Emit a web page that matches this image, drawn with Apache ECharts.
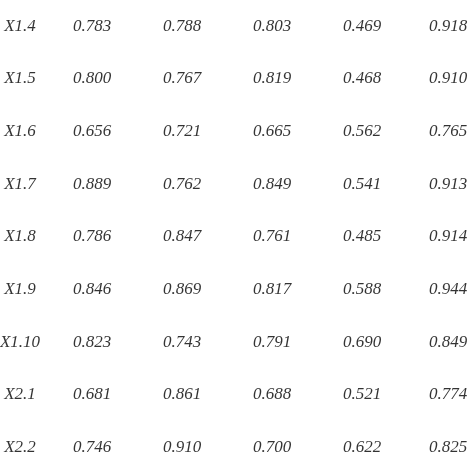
<!DOCTYPE html>
<html>
<head>
<meta charset="utf-8">
<script src="https://cdn.jsdelivr.net/npm/echarts@6/dist/echarts.min.js"></script>
<style>html,body{margin:0;padding:0;background:#fff}#table_chart{width:474px;height:474px}</style>
</head>
<body>
<div id="table_chart"></div>
<script>
const row_names = ["X1.4", "X1.5", "X1.6", "X1.7", "X1.8", "X1.9", "X1.10", "X2.1", "X2.2"]
const col_a = ["0.783", "0.800", "0.656", "0.889", "0.786", "0.846", "0.823", "0.681", "0.746"]
const col_b = ["0.788", "0.767", "0.721", "0.762", "0.847", "0.869", "0.743", "0.861", "0.910"]
const col_c = ["0.803", "0.819", "0.665", "0.849", "0.761", "0.817", "0.791", "0.688", "0.700"]
const col_d = ["0.469", "0.468", "0.562", "0.541", "0.485", "0.588", "0.690", "0.521", "0.622"]
const col_e = ["0.918", "0.910", "0.765", "0.913", "0.914", "0.944", "0.849", "0.774", "0.825"]

// column centres in pixels (layout, not data)
const col_x = [20, 92, 182, 272, 362, 448]
const columns = [row_names, col_a, col_b, col_c, col_d, col_e]

let table_chart = echarts.init(document.getElementById("table_chart"))

let cells = []
columns.forEach((col, c) => {
    col.forEach((txt, r) => {
        cells.push([col_x[c], r, txt])
    })
})

table_chart.setOption({
    animation: false,
    grid: {left: 0, right: 0, top: 0, bottom: 0},
    xAxis: {type: 'value', min: 0, max: 474, show: false},
    yAxis: {type: 'category', data: row_names, inverse: true, show: false},
    series: [{
        type: 'scatter',
        symbolSize: 0,
        data: cells,
        label: {
            show: true,
            position: 'inside',
            formatter: (p) => p.value[2],
            fontFamily: 'Liberation Serif',
            fontStyle: 'italic',
            fontSize: 17,
            color: '#000'
        }
    }]
})
</script>
</body>
</html>
